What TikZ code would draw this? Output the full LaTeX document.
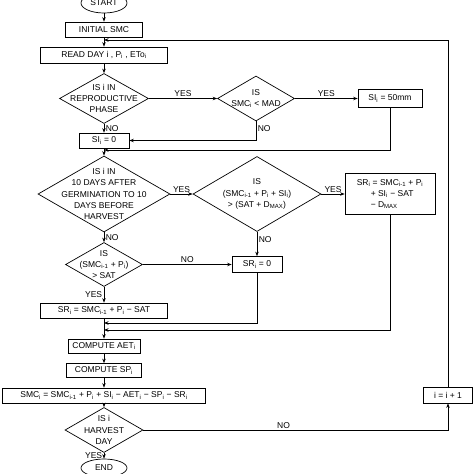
\documentclass[tikz,border=0pt]{standalone}
\usepackage{fontspec}
\setmainfont{Liberation Sans}
\usetikzlibrary{shapes.geometric,arrows.meta}
\newcommand{\mysub}[1]{\textsubscript{#1}}
\begin{document}
\begin{tikzpicture}[x=1pt,y=-1pt, line width=0.7pt,
  every node/.style={font=\fontsize{8.5}{11.3}\selectfont},
  box/.style={draw, rectangle, inner sep=0pt, align=center},
  dia/.style={draw, diamond, inner sep=0pt},
  term/.style={draw, ellipse, inner sep=0pt, minimum width=46pt, minimum height=20pt},
  arr/.style={-{Stealth[length=4.5pt,width=3.5pt]}},
  lbl/.style={inner sep=1.5pt}
]
\useasboundingbox (0,0) rectangle (474,474);
% nodes
\node[term] (start) at (104,3) {START};
\node[box, minimum width=77pt, minimum height=15pt] (init) at (104,29.5) {INITIAL SMC};
\node[box, minimum width=127pt, minimum height=16pt] (read) at (104,55) {READ DAY i , P\mysub{i} , ETo\mysub{i}};
\node[dia, minimum width=89pt, minimum height=50pt, label={[align=center]center:{IS i IN\\REPRODUCTIVE\\PHASE}}] (d1) at (104,98.5) {};
\node[dia, minimum width=77pt, minimum height=45pt, label={[align=center]center:{IS\\SMC\mysub{i} < MAD}}] (d2) at (256,98.5) {};
\node[box, minimum width=64pt, minimum height=18pt] (si50) at (390,98.5) {SI\mysub{i} = 50mm};
\node[box, minimum width=50pt, minimum height=15pt] (si0) at (104,140.5) {SI\mysub{i} = 0};
\node[dia, minimum width=132pt, minimum height=76pt, label={[align=center]center:{IS i IN\\10 DAYS AFTER\\GERMINATION TO 10\\DAYS BEFORE\\HARVEST}}] (d3) at (104,194) {};
\node[dia, minimum width=128pt, minimum height=75pt, label={[align=center]center:{IS\\(SMC\mysub{i-1} + P\mysub{i} + SI\mysub{i})\\> (SAT + D\mysub{MAX})}}] (d4) at (257,194) {};
\node[box, minimum width=90pt, minimum height=41pt, align=left] (srR) at (390,194) {SR\mysub{i} = SMC\mysub{i-1} + P\mysub{i}\\\hspace*{14pt}+ SI\mysub{i} − SAT\\\hspace*{14pt}− D\mysub{MAX}};
\node[dia, minimum width=77pt, minimum height=44pt, label={[align=center]center:{IS\\(SMC\mysub{i-1} + P\mysub{i})\\> SAT}}] (d5) at (104,264.5) {};
\node[box, minimum width=50pt, minimum height=16pt] (sr0) at (257,264.5) {SR\mysub{i} = 0};
\node[box, minimum width=127pt, minimum height=15pt] (srL) at (104,310.5) {SR\mysub{i} = SMC\mysub{i-1} + P\mysub{i} − SAT};
\node[box, minimum width=72pt, minimum height=14pt] (aet) at (104,346) {COMPUTE AET\mysub{i}};
\node[box, minimum width=75pt, minimum height=14pt] (sp) at (104,370.5) {COMPUTE SP\mysub{i}};
\node[box, minimum width=203pt, minimum height=15pt] (smc) at (104,395.5) {SMC\mysub{i} = SMC\mysub{i-1} + P\mysub{i} + SI\mysub{i} − AET\mysub{i} − SP\mysub{i} − SR\mysub{i}};
\node[dia, minimum width=78pt, minimum height=45pt, label={[align=center]center:{IS i\\HARVEST\\DAY}}] (d6) at (104,430) {};
\node[term, minimum height=18pt] (end) at (104,468) {END};
\node[box, minimum width=49pt, minimum height=16pt] (inc) at (448,395) {i = i + 1};
% junctions
\coordinate (jtop) at (104,40);
\coordinate (j2) at (104,150);
\coordinate (j3) at (104,323);
\coordinate (j4) at (104,330);
% connectors
\draw[arr] (start) -- (init);
\draw[arr] (init) -- (read);
\draw[arr] (read) -- (d1);
\draw[arr] (d1) -- node[lbl, above]{YES} (d2);
\draw[arr] (d2) -- node[lbl, above]{YES} (si50);
\draw[arr] (d2.south) |- node[lbl, pos=0.2, right]{NO} (si0.east);
\draw[arr] (d1) -- node[lbl, midway, right]{NO} (si0);
\draw[arr] (si50.south) |- (j2);
\draw[arr] (si0) -- (d3);
\draw[arr] (d3) -- node[lbl, above]{YES} (d4);
\draw[arr] (d4) -- node[lbl, above]{YES} (srR);
\draw[arr] (d4) -- node[lbl, pos=0.3, right]{NO} (sr0);
\draw[arr] (d3) -- node[lbl, midway, right]{NO} (d5);
\draw[arr] (d5) -- node[lbl, above]{NO} (sr0);
\draw[arr] (d5) -- node[lbl, midway, left]{YES} (srL);
\draw[arr] (sr0.south) |- (j3);
\draw[arr] (srR.south) |- (j4);
\draw[arr] (srL) -- (aet);
\draw[arr] (aet) -- (sp);
\draw[arr] (sp) -- (smc);
\draw[arr] (smc) -- (d6);
\draw[arr] (d6) -- node[lbl, midway, left]{YES} (end);
\draw[arr] (d6.east) -| node[lbl, pos=0.23, above]{NO} (inc.south);
\draw[arr] (inc.north) |- (jtop);
\end{tikzpicture}
\end{document}
